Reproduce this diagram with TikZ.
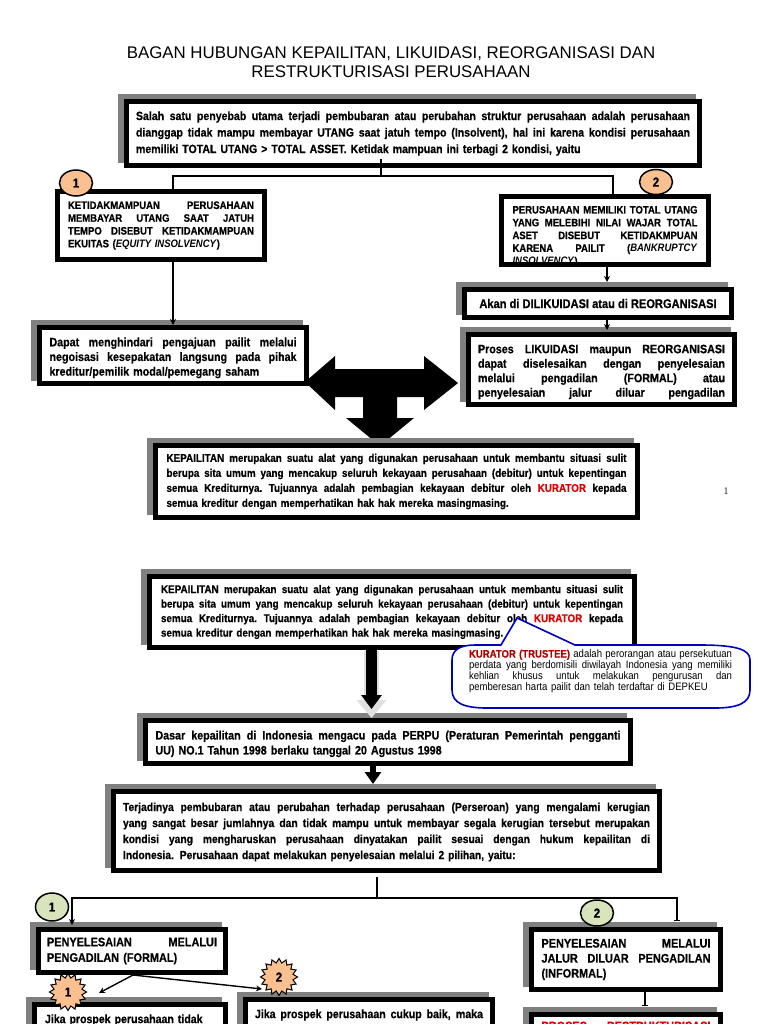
\documentclass[tikz,border=0pt]{standalone}
\usepackage{fontspec}
\setsansfont[FakeStretch=0.88,BoldFeatures={FakeBold=0.5}]{Liberation Sans}
\newfontfamily\titlefont{Liberation Sans}
\usetikzlibrary{shapes.geometric,arrows.meta,shadows}
\definecolor{bkShadow}{HTML}{808080}
\definecolor{bkPeach}{HTML}{FAC090}
\definecolor{bkGreen}{HTML}{D7E4BC}
\definecolor{bkBlue}{HTML}{0000C0}
\definecolor{bkRed}{HTML}{E00000}
\definecolor{bkDarkRed}{HTML}{B00000}
\newcommand{\jl}[1]{\makebox[\linewidth][s]{\spaceskip=.28em plus 1fil\relax\xspaceskip=\spaceskip #1}\\}
\newcommand{\pad}[1]{\rule{0pt}{#1pt}}
\tikzset{
  bk/.style={>={Stealth[length=6pt, width=6pt]}},
  fs/.style 2 args={font=\fontsize{#1}{#2}\selectfont\sffamily\bfseries},
  plain/.style={draw=black, fill=white, line width=5pt, inner sep=0pt, align=left},
  box/.style={plain, general shadow={draw=bkShadow, fill=bkShadow, shadow xshift=-6pt, shadow yshift=5pt}},
  oval/.style={ellipse, draw=black, line width=1.5pt, inner sep=0pt, minimum width=33pt, fs={13}{14}},
  burst/.style={star, star points=16, star point ratio=1.3, draw=black, line width=1pt, fill=bkPeach, inner sep=0pt, minimum size=37pt, fs={13}{14}},
  link/.style={draw=black, line width=1.4pt},
  fat/.style={line width=#1},
}
\begin{document}
\begin{tikzpicture}[bk, x=1pt, y=-1pt]
\useasboundingbox (0,0) rectangle (768,1024);
\clip (0,0) rectangle (768,1024);
\node[font=\fontsize{16.85}{19}\selectfont\titlefont, align=center] (title) at (391,62.5)
  {BAGAN HUBUNGAN KEPAILITAN, LIKUIDASI, REORGANISASI DAN\\RESTRUKTURISASI PERUSAHAAN};
\node[font=\fontsize{10}{11}\selectfont] (pagenum) at (726,491) {1};

% panah besar
\fill (305,382) -- (335,356) -- (335,369) -- (424,369) -- (424,356) -- (458,383) -- (424,410)
  -- (424,397) -- (397,397) -- (397,418) -- (414,418) -- (380,446) -- (346,418) -- (363,418)
  -- (363,397) -- (335,397) -- (335,410) -- cycle;

% bagian atas
\node[box, fs={12}{16.5}, minimum width=573, minimum height=64, text width=554] (salah) at (413,133.5)
  {\jl{Salah satu penyebab utama terjadi pembubaran atau perubahan struktur perusahaan adalah perusahaan}
   \jl{dianggap tidak mampu membayar UTANG saat jatuh tempo (Insolvent), hal ini karena kondisi perusahaan}
   memiliki TOTAL UTANG > TOTAL ASSET. Ketidak mampuan ini terbagi 2 kondisi, yaitu};
\node[plain, fs={10.8}{12.8}, minimum width=207, minimum height=68, text width=186] (equity) at (161,225.5)
  {\jl{KETIDAKMAMPUAN PERUSAHAAN}
   \jl{MEMBAYAR UTANG SAAT JATUH}
   \jl{TEMPO DISEBUT KETIDAKMAMPUAN}
   EKUITAS (\textit{EQUITY INSOLVENCY})};
\node[plain, fs={10.8}{12.8}, minimum width=207, minimum height=68, text width=185,
  text height=9pt, text depth=43pt] (bankrupt) at (605,230.5)
  {\jl{PERUSAHAAN MEMILIKI TOTAL UTANG}
   \jl{YANG MELEBIHI NILAI WAJAR TOTAL}
   \jl{ASET DISEBUT KETIDAKMPUAN}
   \jl{KARENA PAILIT (\textit{BANKRUPTCY}}
   \textit{INSOLVENCY})};
\node[box, fs={12.16}{14.7}, minimum width=267, minimum height=56, text width=247] (hindar) at (173,355.5)
  {\jl{\pad{13.5}Dapat menghindari pengajuan pailit melalui}
   \jl{negoisasi kesepakatan langsung pada pihak}
   kreditur/pemilik modal/pemegang saham};
\node[box, fs={12.6}{14}, minimum width=267, minimum height=28, align=center] (likuid) at (598,303.5)
  {Akan di DILIKUIDASI atau di REORGANISASI};
\node[box, fs={12.17}{14.5}, minimum width=266, minimum height=70, text width=247] (proses) at (601.5,369.5)
  {\jl{\pad{13.5}Proses LIKUIDASI maupun REORGANISASI}
   \jl{dapat diselesaikan dengan penyelesaian}
   \jl{melalui pengadilan (FORMAL) atau}
   \makebox[\linewidth][s]{\spaceskip=.28em plus 1fil\relax penyelesaian jalur diluar pengadilan}};
\node[box, fs={11.2}{15}, minimum width=482, minimum height=72, text width=460] (pailit) at (396.5,481.5)
  {\jl{KEPAILITAN merupakan suatu alat yang digunakan perusahaan untuk membantu situasi sulit}
   \jl{berupa sita umum yang mencakup seluruh kekayaan perusahaan (debitur) untuk kepentingan}
   \jl{semua Krediturnya. Tujuannya adalah pembagian kekayaan debitur oleh \textcolor{bkRed}{KURATOR} kepada}
   semua kreditur dengan memperhatikan hak hak mereka masingmasing.};

% bagian bawah
\node[box, fs={11.2}{14.5}, minimum width=485, minimum height=71, text width=462] (pailitb) at (392,612)
  {\jl{KEPAILITAN merupakan suatu alat yang digunakan perusahaan untuk membantu situasi sulit}
   \jl{berupa sita umum yang mencakup seluruh kekayaan perusahaan (debitur) untuk kepentingan}
   \jl{semua Krediturnya. Tujuannya adalah pembagian kekayaan debitur oleh \textcolor{bkRed}{KURATOR} kepada}
   semua kreditur dengan memperhatikan hak hak mereka masingmasing.};
\node[box, fs={12.16}{15}, minimum width=485, minimum height=43, text width=465] (dasar) at (388,742)
  {\jl{\pad{12.5}Dasar kepailitan di Indonesia mengacu pada PERPU (Peraturan Pemerintah pengganti}
   UU) NO.1 Tahun 1998 berlaku tanggal 20 Agustus 1998};
\node[box, fs={11.7}{16}, minimum width=546, minimum height=79, text width=527] (terjadi) at (386.5,831)
  {\jl{\pad{10.5}Terjadinya pembubaran atau perubahan terhadap perusahaan (Perseroan) yang mengalami kerugian}
   \jl{yang sangat besar jumlahnya dan tidak mampu untuk membayar segala kerugian tersebut merupakan}
   \jl{kondisi yang mengharuskan perusahaan dinyatakan pailit sesuai dengan hukum kepailitan di}
   Indonesia. Perusahaan dapat melakukan penyelesaian melalui 2 pilihan, yaitu:};
\node[box, fs={12.4}{15.5}, minimum width=187, minimum height=43, text width=170] (formal) at (132,951)
  {\jl{PENYELESAIAN MELALUI}
   PENGADILAN (FORMAL)};
\node[box, fs={12.4}{15}, minimum width=189, minimum height=60, text width=169] (informal) at (626,959.5)
  {\jl{PENYELESAIAN MELALUI}
   \jl{JALUR DILUAR PENGADILAN}
   (INFORMAL)};
\node[box, fs={12}{15}, minimum width=191, minimum height=31, text width=170] (tidak) at (130,1020)
  {Jika prospek perusahaan tidak};
\node[box, fs={12}{15}, minimum width=247, minimum height=31, text width=228] (baik) at (369,1015)
  {\makebox[\linewidth][s]{\spaceskip=.28em plus 1fil\relax Jika prospek perusahaan cukup baik, maka}};
\node[box, fs={12.4}{15}, minimum width=189, minimum height=23, text width=169] (restruk) at (626,1026)
  {\color{bkRed}\makebox[\linewidth][s]{\spaceskip=.28em plus 1fil\relax PROSES RESTRUKTURISASI}};

% sambungan
\coordinate (salahbar) at ([xshift=-32,yshift=-8]salah.south);
\draw[link] ([xshift=-32,yshift=9]salah.south) -- (salahbar);
\draw[link] (salahbar) -| ([xshift=12]equity.north);
\draw[link] (salahbar) -| ([xshift=8]bankrupt.north);
\draw[link,->] ([xshift=12]equity.south) -- (hindar.north);
\draw[link,->] ([xshift=2]bankrupt.south) -- ([xshift=9,yshift=5]likuid.north);
\draw[link,->] ([xshift=9]likuid.south) -- ([xshift=5.5,yshift=2]proses.north);
\draw[-{Triangle[length=18pt,width=29pt]}, fat=15pt, black!12] ([xshift=-20.5,yshift=-1]pailitb.south) -- ([xshift=-16.5]dasar.north);
\draw[-{Triangle[length=14pt,width=20pt]}, fat=11pt] ([xshift=-20.5,yshift=3]pailitb.south) -- ([xshift=-16.5,yshift=9]dasar.north);
\draw[-{Triangle[length=12pt,width=16pt]}, fat=6pt] ([xshift=-15]dasar.south) -- ([xshift=-13.5,yshift=5]terjadi.north);
\coordinate (terjadibar) at ([xshift=-9.5,yshift=-25]terjadi.south);
\draw[link] ([xshift=-9.5,yshift=-4]terjadi.south) -- (terjadibar);
\draw[link,->] (terjadibar) -| ([xshift=-60,yshift=2]formal.north);
\draw[link,-{Bar[width=6pt]}] (terjadibar) -| ([xshift=51,yshift=6]informal.north);
\draw[link,->] ([xshift=1]formal.south) -- ([xshift=-31,yshift=9]tidak.north);
\draw[link,->] ([xshift=1]formal.south) -- ([xshift=-107,yshift=8]baik.north);
\draw[link,-{Bar[width=6pt]}] ([xshift=19]informal.south) -- ([xshift=19,yshift=6]restruk.north);

% nomor
\node[oval, fill=bkPeach, minimum height=26pt] (satu) at (76,183) {1};
\node[oval, fill=bkPeach, minimum height=25pt] (dua) at (656,182) {2};
\node[oval, fill=bkGreen, minimum height=28pt] (satug) at (52,907) {1};
\node[oval, fill=bkGreen, minimum height=26pt] (duag) at (597,913) {2};
\node[burst] (satub) at (68,992) {1};
\node[burst] (duab) at (279,977) {2};

% kurator
\draw[draw=bkBlue, fill=white, line width=1.6pt] (501,645) -- (517,618) -- (575,645) -- (700,645)
  .. controls (738,645) and (750,650) .. (750,660) -- (750,690)
  .. controls (750,703) and (738,708) .. (715,708) -- (487,708)
  .. controls (464,708) and (452,703) .. (452,690) -- (452,660)
  .. controls (452,650) and (460,645) .. (475,645) -- cycle;
\node[inner sep=0pt, text width=263, align=left, font=\fontsize{10.85}{10.8}\selectfont\sffamily] (trustee) at (600.5,671)
  {\jl{\textbf{\textcolor{bkDarkRed}{KURATOR (TRUSTEE)}} adalah perorangan atau persekutuan}
   \jl{perdata yang berdomisili diwilayah Indonesia yang memiliki}
   \jl{kehlian khusus untuk melakukan pengurusan dan}
   pemberesan harta pailit dan telah terdaftar di DEPKEU};
\end{tikzpicture}
\end{document}
